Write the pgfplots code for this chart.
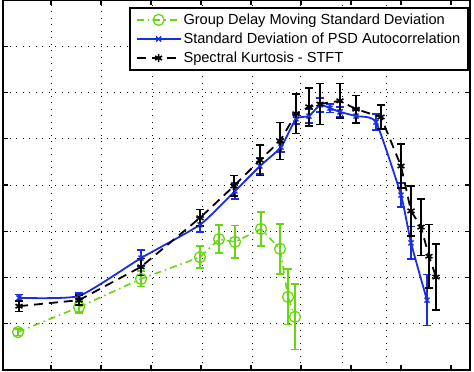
\documentclass[border=0pt]{standalone}
\usepackage{pgfplots}
\pgfplotsset{compat=1.18}
\usepackage{fontspec}
\setmainfont{Liberation Sans}
\definecolor{gdgreen}{RGB}{102,214,16}
\definecolor{psdblue}{RGB}{25,45,225}
\begin{document}
\begin{tikzpicture}
\begin{axis}[
 scale only axis, width=467pt, height=370pt,
 xmin=-0.96, xmax=8.38, ymin=0, ymax=8,
 xtick={0,...,8}, ytick={1,...,7},
 xticklabels={}, yticklabels={},
 major tick length=5pt,
 tick style={line width=1.2pt, black},
 axis line style={line width=1.6pt},
 ymajorgrids,
 grid style={black, line width=1pt, dash pattern=on 1.2pt off 5.3pt},
 extra x ticks={0,1,2.02,3.02,4.02,4.98,5.82,6.7},
 extra x tick labels={},
 extra x tick style={major tick length=0pt, xmajorgrids=true},
 legend style={at={(0.998,0.981)}, anchor=north east, draw=black, line width=1.6pt,
   font=\fontsize{14.6}{16.5}\selectfont, inner xsep=6pt, inner ysep=4pt, row sep=3pt},
 legend cell align=left,
 legend image code/.code={\draw[mark repeat=2,mark phase=2,#1] plot coordinates {(0pt,0pt) (22pt,0pt) (44pt,0pt)};},
]
\addplot[gdgreen, line width=1.6pt, dash pattern=on 7pt off 4pt on 1.5pt off 4pt,
  mark=o, mark size=5.5pt, mark options={solid, line width=1.3pt},
  error bars/.cd, y dir=both, y explicit,
  error bar style={line width=1.5pt, solid},
  error mark options={rotate=90, line width=1.5pt, mark size=4pt, solid}]
table[x=x, y=y, y error=e] {
x y e
-0.66 0.82 0.07
0.56 1.36 0.13
1.80 1.97 0.17
2.98 2.44 0.24
3.36 2.83 0.30
3.68 2.77 0.35
4.20 3.05 0.37
4.58 2.62 0.54
4.74 1.58 0.60
4.88 1.15 0.71
};
\addlegendentry{Group Delay Moving Standard Deviation}
\addplot[psdblue, line width=1.8pt, smooth, tension=0.3,
  mark=x, mark size=3.5pt, mark options={solid, line width=1.4pt},
  error bars/.cd, y dir=both, y explicit,
  error bar style={line width=1.5pt, solid},
  error mark options={rotate=90, line width=1.5pt, mark size=4pt, solid}]
table[x=x, y=y, y error=e] {
x y e
-0.64 1.56 0.07
0.56 1.60 0.07
1.80 2.42 0.17
2.98 3.14 0.16
3.68 3.87 0.17
4.18 4.41 0.17
4.60 4.82 0.11
4.90 5.43 0.11
5.16 5.49 0.15
5.38 5.73 0.15
5.58 5.66 0.09
5.78 5.58 0.11
6.10 5.49 0.15
6.50 5.36 0.17
7.00 3.78 0.26
7.20 2.75 0.35
7.52 1.51 0.55
};
\addlegendentry{Standard Deviation of PSD Autocorrelation}
\addplot[black, line width=1.8pt, dash pattern=on 9pt off 6pt,
  mark=asterisk, mark size=4pt, mark options={solid, line width=1.6pt},
  error bars/.cd, y dir=both, y explicit,
  error bar style={line width=1.5pt, solid},
  error mark options={rotate=90, line width=1.5pt, mark size=4pt, solid}]
table[x=x, y=y, y error=e] {
x y e
-0.64 1.38 0.11
0.56 1.51 0.11
1.80 2.23 0.18
2.98 3.29 0.18
3.66 3.98 0.22
4.18 4.54 0.33
4.58 4.95 0.40
4.90 5.54 0.43
5.16 5.69 0.41
5.38 5.75 0.44
5.78 5.82 0.37
6.10 5.64 0.30
6.60 5.47 0.26
7.00 4.41 0.48
7.20 3.44 0.54
7.40 3.09 0.61
7.56 2.46 0.69
7.70 2.01 0.71
};
\addlegendentry{Spectral Kurtosis - STFT}
\end{axis}
\pgfresetboundingbox
\path ([shift={(-3pt,-2pt)}]current axis.south west) rectangle ([shift={(4pt,0pt)}]current axis.north east);
\end{tikzpicture}
\end{document}
